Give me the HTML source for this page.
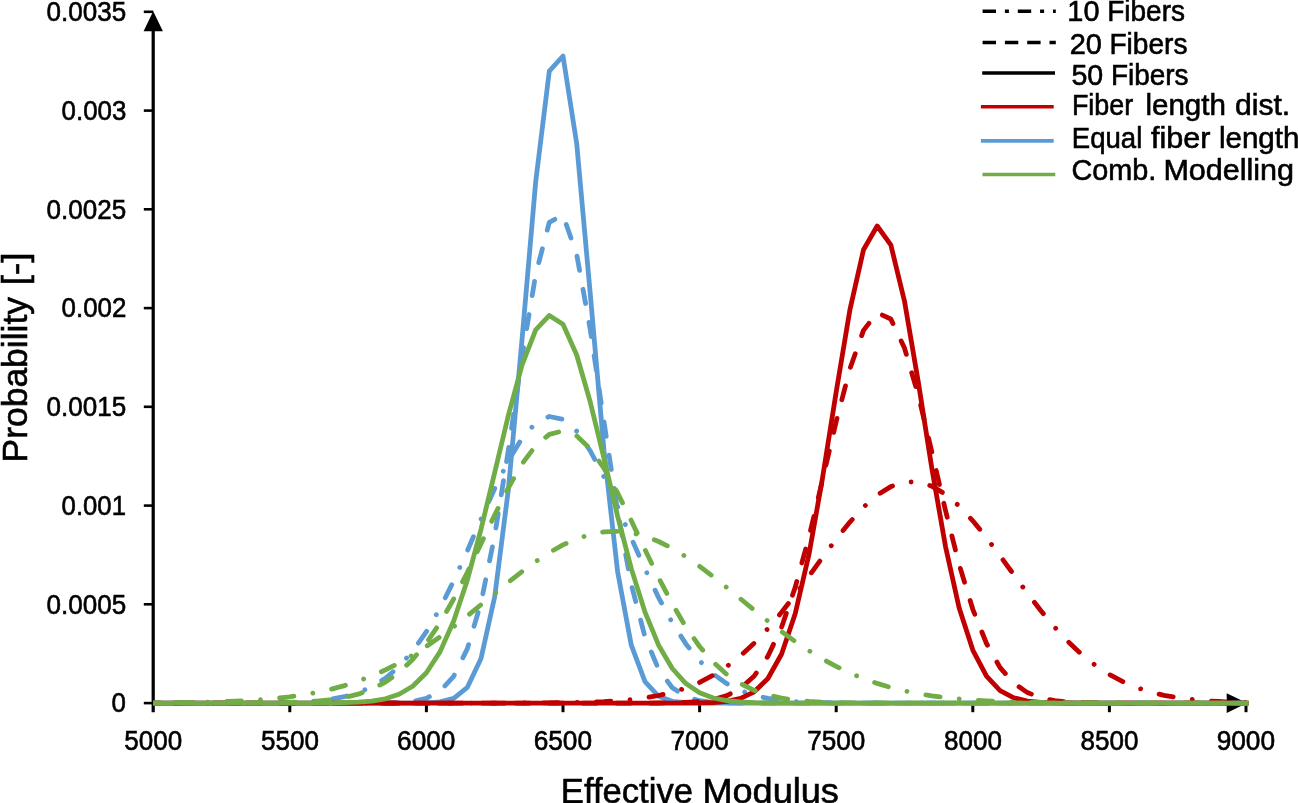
<!DOCTYPE html>
<html lang="en"><head><meta charset="utf-8"><title>Effective Modulus probability</title>
<style>
html,body{margin:0;padding:0;background:#fff;}
body{width:1298px;height:803px;overflow:hidden;}
svg{display:block;}
text{font-family:"Liberation Sans",sans-serif;fill:#000;stroke:#000;stroke-width:0.6px;}
.tk{font-size:27.0px;}
.lg{font-size:28.9px;}
.ax{font-size:35.4px;}
.c{fill:none;stroke-linejoin:round;}
</style></head><body>
<svg width="1298" height="803" viewBox="0 0 1298 803">
<rect width="1298" height="803" fill="#fff"/>

<g stroke="#000" fill="none">
<line x1="153.2" y1="20" x2="153.2" y2="712.2" stroke-width="3.2"/>
<line x1="153.2" y1="703.1" x2="1235" y2="703.1" stroke-width="3.2"/>
<line x1="143.8" y1="703.1" x2="153.2" y2="703.1" stroke-width="2.6"/>
<line x1="143.8" y1="604.3" x2="153.2" y2="604.3" stroke-width="2.6"/>
<line x1="143.8" y1="505.6" x2="153.2" y2="505.6" stroke-width="2.6"/>
<line x1="143.8" y1="406.8" x2="153.2" y2="406.8" stroke-width="2.6"/>
<line x1="143.8" y1="308.1" x2="153.2" y2="308.1" stroke-width="2.6"/>
<line x1="143.8" y1="209.3" x2="153.2" y2="209.3" stroke-width="2.6"/>
<line x1="143.8" y1="110.6" x2="153.2" y2="110.6" stroke-width="2.6"/>
<line x1="143.8" y1="11.8" x2="153.2" y2="11.8" stroke-width="2.6"/>
<line x1="289.8" y1="703.1" x2="289.8" y2="712.2" stroke-width="3"/>
<line x1="426.4" y1="703.1" x2="426.4" y2="712.2" stroke-width="3"/>
<line x1="563.0" y1="703.1" x2="563.0" y2="712.2" stroke-width="3"/>
<line x1="699.6" y1="703.1" x2="699.6" y2="712.2" stroke-width="3"/>
<line x1="836.2" y1="703.1" x2="836.2" y2="712.2" stroke-width="3"/>
<line x1="972.8" y1="703.1" x2="972.8" y2="712.2" stroke-width="3"/>
<line x1="1109.4" y1="703.1" x2="1109.4" y2="712.2" stroke-width="3"/>
<line x1="1246.0" y1="703.1" x2="1246.0" y2="712.2" stroke-width="3"/>
</g>
<polygon points="153.2,11.2 143.6,31.2 162.9,31.2" fill="#000"/>
<polygon points="1247,703.1 1226.7,693.3 1226.7,712.9" fill="#000"/>
<clipPath id="plot"><rect x="153.3" y="0" width="1095.5" height="712"/></clipPath>
<g clip-path="url(#plot)">
<polyline class="c" points="153.2,703.1 166.9,703.1 180.5,703.1 194.2,703.1 207.8,703.1 221.5,703.1 235.2,703.1 248.8,703.0 262.5,702.9 276.1,702.7 289.8,702.4 303.5,701.9 317.1,700.9 330.8,699.3 344.4,696.7 358.1,692.7 371.8,686.7 385.4,678.3 399.1,666.6 412.7,651.2 426.4,631.7 440.1,608.1 453.7,580.8 467.4,550.6 481.0,519.2 494.7,488.5 508.4,460.7 522.0,438.2 535.7,423.0 549.3,416.5 563.0,419.3 576.7,431.2 590.3,451.0 604.0,476.9 617.6,506.7 631.3,538.1 645.0,569.0 658.6,597.6 672.3,622.8 685.9,643.9 699.6,660.9 713.3,674.0 726.9,683.7 740.6,690.6 754.2,695.3 767.9,698.4 781.6,700.3 795.2,701.5 808.9,702.2 822.5,702.6 836.2,702.9 849.9,703.0 863.5,703.0 877.2,703.1 890.8,703.1 904.5,703.1 918.2,703.1 931.8,703.1 945.5,703.1 959.1,703.1 972.8,703.1 986.5,703.1 1000.1,703.1 1013.8,703.1 1027.4,703.1 1041.1,703.1 1054.8,703.1 1068.4,703.1 1082.1,703.1 1095.7,703.1 1109.4,703.1 1123.1,703.1 1136.7,703.1 1150.4,703.1 1164.0,703.1 1177.7,703.1 1191.4,703.1 1205.0,703.1 1218.7,703.1 1232.3,703.1 1246.0,703.1" stroke="#5B9BD5" stroke-width="4.8" stroke-linecap="round" stroke-dasharray="14.4 19.2 0.01 19.19" stroke-dashoffset="31.53"/>
<polyline class="c" points="153.2,703.1 166.9,703.1 180.5,703.1 194.2,703.1 207.8,703.1 221.5,703.1 235.2,703.1 248.8,703.1 262.5,703.1 276.1,703.1 289.8,703.1 303.5,703.1 317.1,703.1 330.8,703.1 344.4,703.1 358.1,703.1 371.8,703.1 385.4,702.9 399.1,702.5 412.7,701.4 426.4,698.3 440.1,691.2 453.7,676.3 467.4,648.6 481.0,602.7 494.7,535.6 508.4,450.0 522.0,356.9 535.7,274.4 549.3,222.3 563.0,215.0 576.7,254.5 590.3,329.7 604.0,421.8 617.6,511.2 631.3,584.6 645.0,636.8 658.6,669.5 672.3,687.7 685.9,696.7 699.6,700.7 713.3,702.3 726.9,702.8 740.6,703.0 754.2,703.1 767.9,703.1 781.6,703.1 795.2,703.1 808.9,703.1 822.5,703.1 836.2,703.1 849.9,703.1 863.5,703.1 877.2,703.1 890.8,703.1 904.5,703.1 918.2,703.1 931.8,703.1 945.5,703.1 959.1,703.1 972.8,703.1 986.5,703.1 1000.1,703.1 1013.8,703.1 1027.4,703.1 1041.1,703.1 1054.8,703.1 1068.4,703.1 1082.1,703.1 1095.7,703.1 1109.4,703.1 1123.1,703.1 1136.7,703.1 1150.4,703.1 1164.0,703.1 1177.7,703.1 1191.4,703.1 1205.0,703.1 1218.7,703.1 1232.3,703.1 1246.0,703.1" stroke="#5B9BD5" stroke-width="4.8" stroke-linecap="round" stroke-dasharray="14.4 19.2" stroke-dashoffset="6.20"/>
<polyline class="c" points="153.3,703.1 166.9,703.1 180.5,703.1 194.2,703.1 207.8,703.1 221.5,703.1 235.2,703.1 248.8,703.1 262.5,703.1 276.1,703.1 289.8,703.1 303.5,703.1 317.1,703.1 330.8,703.1 344.4,703.1 358.1,703.1 371.8,703.1 385.4,703.1 399.1,703.1 412.7,703.1 426.4,702.8 440.1,701.9 453.7,698.4 467.4,687.3 481.0,658.5 494.7,596.8 508.4,489.3 522.0,339.8 535.7,181.8 549.3,71.2 563.0,56.0 576.7,143.5 590.3,294.3 604.0,450.8 617.6,571.6 631.3,645.2 645.0,681.6 658.6,696.3 672.3,701.3 685.9,702.7 699.6,703.0 713.3,703.1 726.9,703.1 740.6,703.1 754.2,703.1 767.9,703.1 781.6,703.1 795.2,703.1 808.9,703.1 822.5,703.1 836.2,703.1 849.9,703.1 863.5,703.1 877.2,703.1 890.8,703.1 904.5,703.1 918.2,703.1 931.8,703.1 945.5,703.1 959.1,703.1 972.8,703.1 986.5,703.1 1000.1,703.1 1013.8,703.1 1027.4,703.1 1041.1,703.1 1054.8,703.1 1068.4,703.1 1082.1,703.1 1095.7,703.1 1109.4,703.1 1123.1,703.1 1136.7,703.1 1150.4,703.1 1164.0,703.1 1177.7,703.1 1191.4,703.1 1205.0,703.1 1218.7,703.1 1232.3,703.1 1248.8,703.1" stroke="#5B9BD5" stroke-width="4.8" stroke-linecap="butt"/>
<polyline class="c" points="153.2,703.1 166.9,703.1 180.5,703.1 194.2,703.1 207.8,703.1 221.5,703.1 235.2,703.1 248.8,703.1 262.5,703.1 276.1,703.1 289.8,703.1 303.5,703.1 317.1,703.1 330.8,703.1 344.4,703.1 358.1,703.1 371.8,703.1 385.4,703.1 399.1,703.1 412.7,703.1 426.4,703.1 440.1,703.1 453.7,703.1 467.4,703.1 481.0,703.1 494.7,703.1 508.4,703.1 522.0,703.0 535.7,703.0 549.3,702.9 563.0,702.7 576.7,702.5 590.3,702.1 604.0,701.6 617.6,700.8 631.3,699.6 645.0,697.9 658.6,695.5 672.3,692.3 685.9,688.0 699.6,682.4 713.3,675.2 726.9,666.4 740.6,655.7 754.2,643.1 767.9,628.6 781.6,612.3 795.2,594.7 808.9,576.2 822.5,557.4 836.2,539.1 849.9,522.1 863.5,507.1 877.2,495.1 890.8,486.6 904.5,482.1 918.2,481.9 931.8,486.1 945.5,494.3 959.1,506.0 972.8,520.8 986.5,537.7 1000.1,555.9 1013.8,574.7 1027.4,593.3 1041.1,611.0 1054.8,627.3 1068.4,642.0 1082.1,654.8 1095.7,665.6 1109.4,674.6 1123.1,681.8 1136.7,687.6 1150.4,692.0 1164.0,695.3 1177.7,697.7 1191.4,699.4 1205.0,700.7 1218.7,701.5 1232.3,702.1 1246.0,702.5" stroke="#C00000" stroke-width="4.8" stroke-linecap="round" stroke-dasharray="14.4 19.2 0.01 19.19" stroke-dashoffset="31.95"/>
<polyline class="c" points="153.2,703.1 166.9,703.1 180.5,703.1 194.2,703.1 207.8,703.1 221.5,703.1 235.2,703.1 248.8,703.1 262.5,703.1 276.1,703.1 289.8,703.1 303.5,703.1 317.1,703.1 330.8,703.1 344.4,703.1 358.1,703.1 371.8,703.1 385.4,703.1 399.1,703.1 412.7,703.1 426.4,703.1 440.1,703.1 453.7,703.1 467.4,703.1 481.0,703.1 494.7,703.1 508.4,703.1 522.0,703.1 535.7,703.1 549.3,703.1 563.0,703.1 576.7,703.1 590.3,703.1 604.0,703.1 617.6,703.1 631.3,703.1 645.0,703.1 658.6,703.0 672.3,702.8 685.9,702.4 699.6,701.5 713.3,699.5 726.9,695.6 740.6,688.3 754.2,676.0 767.9,656.2 781.6,627.1 795.2,587.3 808.9,537.3 822.5,480.1 836.2,421.4 849.9,368.8 863.5,330.4 877.2,312.7 890.8,319.0 904.5,348.1 918.2,394.9 931.8,451.7 945.5,510.5 959.1,564.4 972.8,609.3 986.5,643.5 1000.1,667.6 1013.8,683.2 1027.4,692.6 1041.1,697.9 1054.8,700.7 1068.4,702.0 1082.1,702.7 1095.7,702.9 1109.4,703.0 1123.1,703.1 1136.7,703.1 1150.4,703.1 1164.0,703.1 1177.7,703.1 1191.4,703.1 1205.0,703.1 1218.7,703.1 1232.3,703.1 1246.0,703.1" stroke="#C00000" stroke-width="4.8" stroke-linecap="round" stroke-dasharray="14.4 19.2" stroke-dashoffset="7.34"/>
<polyline class="c" points="153.3,703.1 166.9,703.1 180.5,703.1 194.2,703.1 207.8,703.1 221.5,703.1 235.2,703.1 248.8,703.1 262.5,703.1 276.1,703.1 289.8,703.1 303.5,703.1 317.1,703.1 330.8,703.1 344.4,703.1 358.1,703.1 371.8,703.1 385.4,703.1 399.1,703.1 412.7,703.1 426.4,703.1 440.1,703.1 453.7,703.1 467.4,703.1 481.0,703.1 494.7,703.1 508.4,703.1 522.0,703.1 535.7,703.1 549.3,703.1 563.0,703.1 576.7,703.1 590.3,703.1 604.0,703.1 617.6,703.1 631.3,703.1 645.0,703.1 658.6,703.1 672.3,703.1 685.9,703.0 699.6,702.9 713.3,702.5 726.9,701.3 740.6,698.4 754.2,691.8 767.9,678.5 781.6,654.0 795.2,613.8 808.9,554.8 822.5,478.2 836.2,391.8 849.9,309.9 863.5,249.8 877.2,226.0 890.8,244.8 904.5,301.2 918.2,381.5 931.8,468.1 945.5,546.4 959.1,607.7 972.8,650.1 986.5,676.2 1000.1,690.7 1013.8,697.8 1027.4,701.1 1041.1,702.4 1054.8,702.9 1068.4,703.0 1082.1,703.1 1095.7,703.1 1109.4,703.1 1123.1,703.1 1136.7,703.1 1150.4,703.1 1164.0,703.1 1177.7,703.1 1191.4,703.1 1205.0,703.1 1218.7,703.1 1232.3,703.1 1248.8,703.1" stroke="#C00000" stroke-width="4.8" stroke-linecap="butt"/>
<polyline class="c" points="153.2,702.9 166.9,702.8 180.5,702.6 194.2,702.4 207.8,702.1 221.5,701.7 235.2,701.2 248.8,700.5 262.5,699.6 276.1,698.4 289.8,696.8 303.5,694.8 317.1,692.4 330.8,689.3 344.4,685.6 358.1,681.2 371.8,676.0 385.4,669.9 399.1,663.0 412.7,655.1 426.4,646.4 440.1,636.9 453.7,626.7 467.4,615.9 481.0,604.7 494.7,593.5 508.4,582.3 522.0,571.6 535.7,561.6 549.3,552.6 563.0,544.9 576.7,538.8 590.3,534.4 604.0,531.8 617.6,531.3 631.3,532.8 645.0,536.2 658.6,541.5 672.3,548.4 685.9,556.8 699.6,566.3 713.3,576.7 726.9,587.6 740.6,598.9 754.2,610.1 767.9,621.1 781.6,631.6 795.2,641.5 808.9,650.7 822.5,659.0 836.2,666.4 849.9,673.0 863.5,678.6 877.2,683.4 890.8,687.5 904.5,690.9 918.2,693.6 931.8,695.8 945.5,697.6 959.1,699.0 972.8,700.1 986.5,700.9 1000.1,701.5 1013.8,702.0 1027.4,702.3 1041.1,702.5 1054.8,702.7 1068.4,702.8 1082.1,702.9 1095.7,703.0 1109.4,703.0 1123.1,703.0 1136.7,703.1 1150.4,703.1 1164.0,703.1 1177.7,703.1 1191.4,703.1 1205.0,703.1 1218.7,703.1 1232.3,703.1 1246.0,703.1" stroke="#70AD47" stroke-width="4.8" stroke-linecap="round" stroke-dasharray="14.4 19.2 0.01 19.19" stroke-dashoffset="31.88"/>
<polyline class="c" points="153.2,703.1 166.9,703.1 180.5,703.1 194.2,703.1 207.8,703.1 221.5,703.1 235.2,703.1 248.8,703.0 262.5,702.9 276.1,702.8 289.8,702.5 303.5,702.0 317.1,701.1 330.8,699.7 344.4,697.5 358.1,694.2 371.8,689.2 385.4,682.1 399.1,672.3 412.7,659.4 426.4,642.9 440.1,622.7 453.7,598.9 467.4,572.3 481.0,543.8 494.7,515.0 508.4,487.7 522.0,464.0 535.7,445.6 549.3,434.3 563.0,431.0 576.7,435.9 590.3,448.8 604.0,468.3 617.6,493.0 631.3,520.7 645.0,549.6 658.6,577.8 672.3,603.9 685.9,627.0 699.6,646.5 713.3,662.2 726.9,674.5 740.6,683.7 754.2,690.3 767.9,695.0 781.6,698.1 795.2,700.1 808.9,701.3 822.5,702.1 836.2,702.6 849.9,702.8 863.5,703.0 877.2,703.0 890.8,703.1 904.5,703.1 918.2,703.1 931.8,703.1 945.5,703.1 959.1,703.1 972.8,703.1 986.5,703.1 1000.1,703.1 1013.8,703.1 1027.4,703.1 1041.1,703.1 1054.8,703.1 1068.4,703.1 1082.1,703.1 1095.7,703.1 1109.4,703.1 1123.1,703.1 1136.7,703.1 1150.4,703.1 1164.0,703.1 1177.7,703.1 1191.4,703.1 1205.0,703.1 1218.7,703.1 1232.3,703.1 1246.0,703.1" stroke="#70AD47" stroke-width="4.8" stroke-linecap="round" stroke-dasharray="14.4 19.2" stroke-dashoffset="6.09"/>
<polyline class="c" points="153.3,703.1 166.9,703.1 180.5,703.1 194.2,703.1 207.8,703.1 221.5,703.1 235.2,703.1 248.8,703.1 262.5,703.1 276.1,703.1 289.8,703.1 303.5,703.1 317.1,703.1 330.8,703.0 344.4,702.7 358.1,702.2 371.8,701.1 385.4,698.8 399.1,694.3 412.7,686.3 426.4,672.7 440.1,651.6 453.7,621.0 467.4,579.9 481.0,529.3 494.7,472.5 508.4,415.2 522.0,365.1 535.7,329.8 549.3,315.4 563.0,324.3 576.7,355.0 590.3,402.2 604.0,458.5 617.6,516.1 631.3,568.6 645.0,612.1 658.6,645.2 672.3,668.5 685.9,683.6 699.6,692.8 713.3,698.0 726.9,700.7 740.6,702.0 754.2,702.7 767.9,702.9 781.6,703.0 795.2,703.1 808.9,703.1 822.5,703.1 836.2,703.1 849.9,703.1 863.5,703.1 877.2,703.1 890.8,703.1 904.5,703.1 918.2,703.1 931.8,703.1 945.5,703.1 959.1,703.1 972.8,703.1 986.5,703.1 1000.1,703.1 1013.8,703.1 1027.4,703.1 1041.1,703.1 1054.8,703.1 1068.4,703.1 1082.1,703.1 1095.7,703.1 1109.4,703.1 1123.1,703.1 1136.7,703.1 1150.4,703.1 1164.0,703.1 1177.7,703.1 1191.4,703.1 1205.0,703.1 1218.7,703.1 1232.3,703.1 1248.8,703.1" stroke="#70AD47" stroke-width="4.8" stroke-linecap="butt"/>
</g>
<g fill="none">
<line x1="982.6" y1="11.2" x2="1055.8" y2="11.2" stroke="#000" stroke-width="3.5" stroke-dasharray="13.4 8.9 4.0 8.9"/>
<line x1="982.6" y1="42.5" x2="1055.8" y2="42.5" stroke="#000" stroke-width="3.5" stroke-dasharray="13.4 8.9"/>
<line x1="982.2" y1="72.9" x2="1055" y2="72.9" stroke="#000" stroke-width="3.5"/>
<line x1="980.9" y1="106.7" x2="1053.7" y2="106.7" stroke="#C00000" stroke-width="3.6"/>
<line x1="980.9" y1="140.9" x2="1053.7" y2="140.9" stroke="#5B9BD5" stroke-width="3.6"/>
<line x1="982.5" y1="174.4" x2="1055.3" y2="174.4" stroke="#70AD47" stroke-width="3.5"/>
</g>
<text class="tk" y="712.3"><tspan x="111.49" textLength="14.43" lengthAdjust="spacingAndGlyphs">0</tspan></text>
<text class="tk" y="613.5"><tspan x="46.59" textLength="79.64" lengthAdjust="spacingAndGlyphs">0.0005</tspan></text>
<text class="tk" y="514.8"><tspan x="61.60" textLength="64.36" lengthAdjust="spacingAndGlyphs">0.001</tspan></text>
<text class="tk" y="416.0"><tspan x="46.59" textLength="79.64" lengthAdjust="spacingAndGlyphs">0.0015</tspan></text>
<text class="tk" y="317.3"><tspan x="61.60" textLength="64.71" lengthAdjust="spacingAndGlyphs">0.002</tspan></text>
<text class="tk" y="218.5"><tspan x="46.59" textLength="79.64" lengthAdjust="spacingAndGlyphs">0.0025</tspan></text>
<text class="tk" y="119.8"><tspan x="61.60" textLength="64.71" lengthAdjust="spacingAndGlyphs">0.003</tspan></text>
<text class="tk" y="21.0"><tspan x="46.59" textLength="79.64" lengthAdjust="spacingAndGlyphs">0.0035</tspan></text>
<text class="tk" y="749.5"><tspan x="124.36" textLength="57.92" lengthAdjust="spacingAndGlyphs">5000</tspan></text>
<text class="tk" y="749.5"><tspan x="260.96" textLength="57.92" lengthAdjust="spacingAndGlyphs">5500</tspan></text>
<text class="tk" y="749.5"><tspan x="397.08" textLength="58.40" lengthAdjust="spacingAndGlyphs">6000</tspan></text>
<text class="tk" y="749.5"><tspan x="533.68" textLength="58.40" lengthAdjust="spacingAndGlyphs">6500</tspan></text>
<text class="tk" y="749.5"><tspan x="670.61" textLength="58.07" lengthAdjust="spacingAndGlyphs">7000</tspan></text>
<text class="tk" y="749.5"><tspan x="807.21" textLength="58.07" lengthAdjust="spacingAndGlyphs">7500</tspan></text>
<text class="tk" y="749.5"><tspan x="943.95" textLength="57.93" lengthAdjust="spacingAndGlyphs">8000</tspan></text>
<text class="tk" y="749.5"><tspan x="1080.55" textLength="57.93" lengthAdjust="spacingAndGlyphs">8500</tspan></text>
<text class="tk" y="749.5"><tspan x="1216.64" textLength="58.45" lengthAdjust="spacingAndGlyphs">9000</tspan></text>
<text class="ax" y="803.0"><tspan x="560.80" textLength="132.24" lengthAdjust="spacingAndGlyphs">Effective</tspan> <tspan x="702.49" textLength="136.38" lengthAdjust="spacingAndGlyphs">Modulus</tspan></text>
<text class="lg" y="21.3"><tspan x="1067.36" textLength="32.13" lengthAdjust="spacingAndGlyphs">10</tspan> <tspan x="1107.21" textLength="77.76" lengthAdjust="spacingAndGlyphs">Fibers</tspan></text>
<text class="lg" y="54.0"><tspan x="1069.69" textLength="32.20" lengthAdjust="spacingAndGlyphs">20</tspan> <tspan x="1109.40" textLength="78.07" lengthAdjust="spacingAndGlyphs">Fibers</tspan></text>
<text class="lg" y="84.7"><tspan x="1071.43" textLength="31.75" lengthAdjust="spacingAndGlyphs">50</tspan> <tspan x="1110.91" textLength="77.66" lengthAdjust="spacingAndGlyphs">Fibers</tspan></text>
<text class="lg" y="114.9"><tspan x="1071.89" textLength="61.28" lengthAdjust="spacingAndGlyphs">Fiber</tspan> <tspan x="1145.43" textLength="80.52" lengthAdjust="spacingAndGlyphs">length</tspan> <tspan x="1235.06" textLength="55.19" lengthAdjust="spacingAndGlyphs">dist.</tspan></text>
<text class="lg" y="148.3"><tspan x="1071.84" textLength="70.51" lengthAdjust="spacingAndGlyphs">Equal</tspan> <tspan x="1151.07" textLength="59.45" lengthAdjust="spacingAndGlyphs">fiber</tspan> <tspan x="1218.93" textLength="80.52" lengthAdjust="spacingAndGlyphs">length</tspan></text>
<text class="lg" y="179.5"><tspan x="1071.50" textLength="84.85" lengthAdjust="spacingAndGlyphs">Comb.</tspan> <tspan x="1163.42" textLength="130.64" lengthAdjust="spacingAndGlyphs">Modelling</tspan></text>
<text class="ax" y="0.0" transform="translate(26.6,460.2) rotate(-90)"><tspan x="-2.26" textLength="165.46" lengthAdjust="spacingAndGlyphs">Probability</tspan> <tspan x="174.87" textLength="32.97" lengthAdjust="spacingAndGlyphs">[-]</tspan></text>
</svg></body></html>
